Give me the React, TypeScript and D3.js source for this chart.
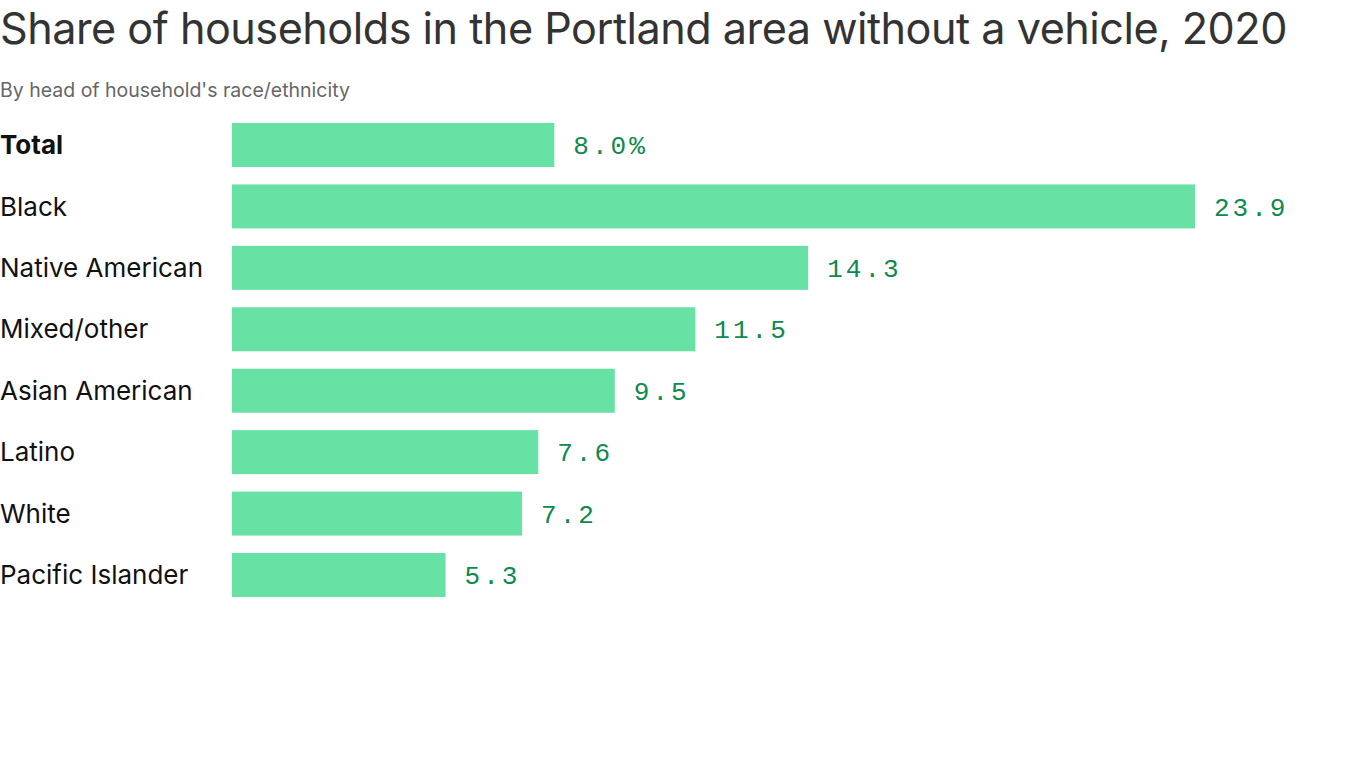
import * as d3 from 'd3';
import { useEffect, useRef } from 'react';

const categories = ['Total', 'Black', 'Native American', 'Mixed/other', 'Asian American', 'Latino', 'White', 'Pacific Islander'];
const values = [8.0, 23.9, 14.3, 11.5, 9.5, 7.6, 7.2, 5.3];
const valueLabels = ['8.0%', '23.9', '14.3', '11.5', '9.5', '7.6', '7.2', '5.3'];

const TITLE = 'Share of households in the Portland area without a vehicle, 2020';
const SUBTITLE = "By head of household's race/ethnicity";

const WIDTH = 1366;
const HEIGHT = 768;
const FONT = 'Inter, "Noto Sans", sans-serif';

const App = () => {
    const svgRef = useRef<SVGSVGElement>(null);

    useEffect(() => {
        document.body.style.margin = '0';
        const svg = d3.select(svgRef.current);
        svg.selectAll('*').remove();

        const x = d3.scaleLinear().domain([0, 23.9]).range([232, 1195]);
        const y = d3.scaleBand().domain(categories).range([123, 597]).paddingInner(0.284).paddingOuter(0);

        svg.append('text')
            .attr('x', 0)
            .attr('y', 44)
            .attr('fill', '#333')
            .style('font-family', FONT)
            .style('font-size', '43.2px')
            .style('letter-spacing', '-0.5px')
            .text(TITLE);

        svg.append('text')
            .attr('x', 0)
            .attr('y', 97)
            .attr('fill', '#666')
            .style('font-family', FONT)
            .style('font-size', '19.5px')
            .text(SUBTITLE);

        const rows = svg
            .selectAll('g.row')
            .data(categories)
            .enter()
            .append('g')
            .attr('class', 'row');

        rows.append('rect')
            .attr('x', x(0))
            .attr('y', (d) => y(d)!)
            .attr('width', (_d, i) => x(values[i]) - x(0))
            .attr('height', y.bandwidth())
            .attr('fill', '#68e1a4');

        rows.append('text')
            .attr('x', 0)
            .attr('y', (d) => y(d)! + y.bandwidth() / 2)
            .attr('dy', '0.35em')
            .attr('fill', '#111')
            .style('font-family', FONT)
            .style('font-size', '26px')
            .style('font-weight', (_d, i) => (i === 0 ? 700 : 400))
            .text((d) => d);

        rows.append('text')
            .attr('x', (_d, i) => x(values[i]) + 19)
            .attr('y', (d) => y(d)! + y.bandwidth() / 2)
            .attr('dy', '0.35em')
            .attr('fill', '#0d8a4e')
            .style('font-family', '"Liberation Mono", "DejaVu Sans Mono", monospace')
            .style('font-size', '26px')
            .style('letter-spacing', '3px')
            .text((_d, i) => valueLabels[i]);
    }, []);

    return <svg ref={svgRef} width={WIDTH} height={HEIGHT} style={{ display: 'block', background: '#fff' }}></svg>;
};

export default App;
